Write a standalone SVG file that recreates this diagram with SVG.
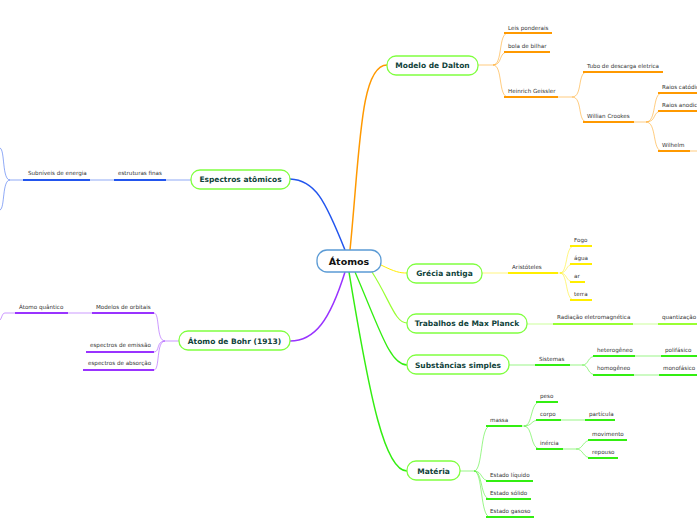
<svg xmlns="http://www.w3.org/2000/svg" width="697" height="520" viewBox="0 0 697 520">
<style>
.n rect{fill:#fff;stroke:#80ff40;stroke-width:1.3}
.n text{font-family:"DejaVu Sans",sans-serif;font-size:7.5px;font-weight:bold;fill:#10433a;text-anchor:middle}
.t{font-family:"DejaVu Sans",sans-serif;font-size:5.6px;fill:#333}
.c path{fill:none}
.o{stroke:#ff9900}.b{stroke:#2255ee}.y{stroke:#ffee00}.g{stroke:#33ee11}.p{stroke:#9933ff}.lg{stroke:#99ff33}
.u{stroke-width:2}.l{stroke-width:1;opacity:.5}
</style>
<rect width="697" height="520" fill="#fff"/>
<g id="connectors" class="c">
<path class="o" stroke-width="1.5" d="M350 250 C360 150 360 65 387 65"/>
<path class="b" stroke-width="1.5" d="M345 250 C325 200 315 180 290 179"/>
<path class="y" stroke-width="1" d="M381 265 C395 272 400 273 407 273"/>
<path class="lg" stroke-width="1.2" d="M372 272 C390 300 395 323 407 323"/>
<path class="g" stroke-width="1.3" d="M355 272 C380 330 390 365 407 365"/>
<path class="p" stroke-width="1.5" d="M345 272 C330 320 315 341 290 341"/>
<path class="g" stroke-width="1.5" d="M349 272 C370 400 385 471 407 471"/>
<!-- Dalton -->
<path class="o l" d="M478 65 H493 M493 65 C503 65 498 33 508 33 M493 65 C503 65 498 52 508 52 M493 65 C503 65 498 97 508 97 M558 97 H572 M572 97 C583 97 577 72 587 72 M572 97 C583 97 577 122 587 122 M634 122 H646 M646 122 C657 122 652 93 662 93 M646 122 C657 122 652 111 662 111 M646 122 C657 122 652 151 662 151 M690 151 H697"/>
<path class="o u" d="M504 33 H552 M504 52 H550 M504 97 H558 M583 72 H663 M583 122 H634 M658 93 H697 M658 111 H697 M658 151 H690"/>
<!-- Espectros -->
<path class="b l" d="M191 180 H166 M114 180 H90 M23 180 H10 M10 180 C2 180 5 150 0 148 M10 180 C2 180 5 208 0 210"/>
<path class="b u" d="M114 180 H166 M23 180 H90"/>
<!-- Bohr -->
<path class="p l" d="M179 341 H165 M165 341 C156 341 160 313 154 313 M165 341 C156 341 160 352 154 352 M165 341 C156 341 160 370 154 370 M92 313 H68 M15 313 H5 M5 313 C2 313 2 318 0 320"/>
<path class="p u" d="M92 313 H154 M15 313 H68 M86 352 H154 M83 370 H154"/>
<!-- Grecia -->
<path class="y l" d="M482 273 H508 M558 273 H560 M560 273 C568 273 565 246 574 246 M560 273 C568 273 565 264 574 264 M560 273 C568 273 565 282 574 282 M560 273 C568 273 565 300 574 300"/>
<path class="y u" d="M508 273 H558 M570 246 H592 M570 264 H592 M570 282 H585 M570 300 H592"/>
<!-- Planck -->
<path class="lg l" d="M527 324 H553 M633 324 H658"/>
<path class="lg u" d="M553 324 H633 M658 324 H697"/>
<!-- Substancias -->
<path class="g l" d="M509 365 H535 M570 365 H582 M582 365 C590 365 586 356 597 356 M582 365 C590 365 586 375 597 375 M635 356 H661 M634 375 H659"/>
<path class="g u" d="M535 365 H570 M593 356 H635 M661 356 H697 M593 375 H634 M659 375 H697"/>
<!-- Materia -->
<path class="g l" d="M460 471 H474 M474 471 C483 471 480 426 490 426 M474 471 C483 471 480 481 490 481 M474 471 C483 471 480 499 490 499 M474 471 C483 471 480 517 490 517 M522 426 H524 M524 426 C533 426 530 402 540 402 M524 426 C533 426 530 420 540 420 M524 426 C533 426 530 449 540 449 M561 420 H585 M563 449 H576 M576 449 C584 449 582 440 592 440 M576 449 C584 449 582 458 592 458"/>
<path class="g u" d="M486 426 H522 M536 402 H558 M536 420 H561 M585 420 H615 M536 449 H563 M588 440 H627 M588 458 H618 M486 481 H533 M486 499 H531 M486 517 H534"/>
</g>
<g id="atomos"><rect x="317" y="250" width="64" height="22" rx="10" fill="#fff" stroke="#5b9bd5" stroke-width="1.3"/><text x="349" y="264.5" font-family="DejaVu Sans,sans-serif" font-size="9.5" font-weight="bold" text-anchor="middle" fill="#111">Átomos</text></g>
<g id="dalton" class="n"><rect x="387" y="56" width="91" height="19" rx="9"/><text x="432.5" y="68">Modelo de Dalton</text></g>
<g id="espectros" class="n"><rect x="191" y="170" width="99" height="19" rx="9"/><text x="240.5" y="182">Espectros atômicos</text></g>
<g id="grecia" class="n"><rect x="407" y="264" width="75" height="19" rx="9"/><text x="444.5" y="276">Grécia antiga</text></g>
<g id="planck" class="n"><rect x="407" y="314" width="120" height="19" rx="9"/><text x="467" y="326">Trabalhos de Max Planck</text></g>
<g id="substancias" class="n"><rect x="407" y="355" width="102" height="19" rx="9"/><text x="458" y="367.5">Substâncias simples</text></g>
<g id="bohr" class="n"><rect x="179" y="331" width="111" height="19" rx="9"/><text x="234.5" y="343.5">Átomo de Bohr (1913)</text></g>
<g id="materia" class="n"><rect x="407" y="461" width="53" height="19" rx="9"/><text x="433.5" y="473.5">Matéria</text></g>
<g id="labels" class="t">
<text x="508" y="30">Leis ponderais</text><text x="508" y="48">bola de bilhar</text><text x="508" y="93">Heinrich Geissler</text>
<text x="587" y="68">Tubo de descarga eletrica</text><text x="587" y="118">Willian Crookes</text>
<text x="662" y="89">Raios catódicos</text><text x="662" y="107">Raios anodicos</text><text x="662" y="147">Wilhelm</text>
<text x="118" y="175">estruturas finas</text><text x="28" y="175">Subníveis de energia</text>
<text x="96" y="309">Modelos de orbitais</text><text x="19" y="309">Átomo quântico</text>
<text x="90" y="347">espectros de emissão</text><text x="88" y="365">espectros de absorção</text>
<text x="512" y="269">Aristóteles</text><text x="574" y="242">Fogo</text><text x="574" y="260">água</text><text x="574" y="278">ar</text><text x="574" y="296">terra</text>
<text x="557" y="319">Radiação eletromagnética</text><text x="662" y="319">quantização</text>
<text x="539" y="361">Sistemas</text><text x="597" y="352">heterogêneo</text><text x="665" y="352">polifásico</text><text x="597" y="370">homogêneo</text><text x="663" y="370">monofásico</text>
<text x="490" y="422">massa</text><text x="540" y="398">peso</text><text x="540" y="416">corpo</text><text x="589" y="416">partícula</text><text x="540" y="445">inércia</text><text x="592" y="436">movimento</text><text x="592" y="454">repouso</text>
<text x="490" y="477">Estado líquido</text><text x="490" y="495">Estado sólido</text><text x="490" y="513">Estado gasoso</text>
</g>
</svg>
